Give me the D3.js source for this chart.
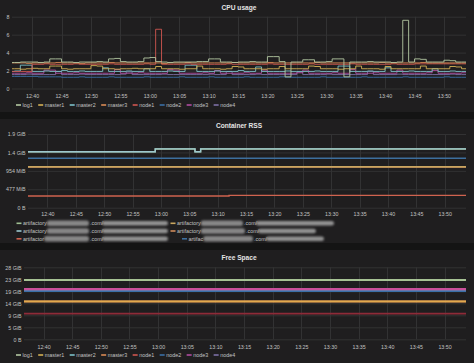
<!DOCTYPE html>
<html><head><meta charset="utf-8">
<script src="https://cdn.jsdelivr.net/npm/d3@7"></script>
<style>
html,body{margin:0;padding:0;background:#141414;}
svg{display:block;font-family:"Liberation Sans",Arial,sans-serif;}
</style></head><body><svg id="c" width="474" height="363"></svg>
<script>
// ---------------- DATA ----------------
const hostNames = ["log1","master1","master2","master3","node1","node2","node3","node4"];
const hostColors = ["#b4c8a2","#d4b055","#7cc0c8","#d98a55","#cf5650","#3a6fa6","#b04c9f","#7d70a6"];
const timeDomain = ["12:36:35","13:53:45"];
const timeTicks = ["12:40","12:45","12:50","12:55","13:00","13:05","13:10","13:15","13:20","13:25","13:30","13:35","13:40","13:45","13:50"];

// CPU usage, one sample per minute starting 12:36
const cpuStart = "12:36:00";
const cpuLog1 = [2.9,2.9,2.95,2.95,2.95,2.9,2.95,3.3,3.3,2.95, 2.95,2.9,2.95,2.95,2.95,3.0,2.95,3.3,3.35,3.0, 2.95,2.95,3.0,3.4,3.45,3.0,2.95,2.9,2.95,2.95, 2.95,2.95,3.0,3.0,3.3,3.3,2.95,2.95,2.9,2.95, 2.95,3.0,2.95,2.95,3.55,3.55,3.0,1.3,2.95,2.95, 3.2,3.2,2.95,2.95,3.0,3.3,3.3,1.3,2.95,2.95, 2.95,3.0,2.95,2.95,2.95,2.9,2.95,7.6,2.95,3.3, 3.25,2.95,2.95,2.95,3.15,3.1,2.95,2.95,2.95];
const cpuMaster1 = [2.2,2.2,2.15,2.2,2.25,2.2,2.2,2.5,2.5,2.2, 2.15,2.2,2.2,2.2,2.55,2.5,2.2,2.2,2.15,2.2, 2.2,2.25,2.2,2.2,2.2,2.45,2.2,2.2,2.2,2.15, 2.2,2.2,2.5,2.2,2.2,2.2,2.15,2.2,2.45,2.4, 2.2,2.2,2.2,2.15,2.2,2.2,2.45,2.2,2.2,2.2, 2.2,2.5,2.45,2.2,2.2,2.2,2.15,2.2,2.2,2.5, 2.2,2.2,2.2,2.15,2.45,2.2,2.2,2.2,2.2,2.2, 2.5,2.2,2.2,2.2,2.2,2.45,2.4,2.2,2.2];
const cpuMaster2 = [1.9,1.95,2.6,2.6,1.9,1.9,1.95,1.9,1.9,2.0, 1.9,1.9,1.95,1.9,1.9,1.9,2.3,1.9,1.9,1.9, 1.95,1.9,1.9,2.2,1.9,1.9,1.9,1.95,1.9,1.9, 2.6,2.6,1.9,1.9,1.9,1.95,1.9,1.9,1.9,2.0, 1.9,1.9,2.4,1.9,1.9,1.9,1.9,1.95,1.9,1.9, 1.9,1.9,1.95,1.9,1.9,1.9,2.5,2.5,1.9,1.9, 1.9,1.95,1.9,1.9,2.3,1.9,1.9,1.9,1.95,1.9, 1.9,1.9,2.2,1.9,1.9,1.95,1.9,1.9,1.9];
const cpuMaster3 = [2.85,2.85,2.85,2.8,2.85,2.85,2.85,2.85,2.9,2.85, 2.85,2.85,2.8,2.85,2.85,2.85,2.85,2.9,2.85,2.85, 2.85,2.85,2.85,2.85,2.85,2.85,2.8,2.85,2.85,2.85, 2.9,2.85,2.85,2.85,2.85,2.85,2.85,2.85,2.9,2.85, 2.85,2.85,2.85,2.85,2.9,2.85,2.85,2.85,2.85,2.85, 2.85,2.85,2.9,2.85,2.85,2.85,2.85,2.85,2.85,2.85, 2.85,2.85,2.85,2.9,2.85,2.85,2.85,2.85,2.85,2.85, 2.9,2.85,2.85,2.85,2.85,2.85,2.85,2.85,2.85];
const cpuNode1 = [1.9,1.9,1.9,1.9,2.7,2.7,2.75,2.7,2.7,2.7, 2.7,2.75,2.7,2.7,2.7,2.7,2.7,2.75,2.7,2.7, 2.7,2.7,2.7,2.75,2.7,6.6,2.7,2.7,2.7,2.7, 2.75,2.7,2.7,2.7,2.7,2.7,2.7,2.75,2.7,2.7, 2.7,2.7,2.7,2.7,2.75,2.7,2.7,2.7,2.7,2.7, 2.7,2.75,2.7,2.7,2.7,2.7,2.7,2.7,2.75,2.7, 2.7,2.7,2.7,2.7,2.7,2.75,2.7,2.7,2.7,2.75, 2.75,2.75,2.75,2.75,2.75,2.75,2.75,2.75,2.75];
const cpuNode2 = [1.35,1.35,1.35,1.35,1.35,1.3,1.3,1.3,1.3,1.25, 1.25,1.25,1.3,1.25,1.25,1.25,1.25,1.3,1.25,1.25, 1.25,1.25,1.25,1.3,1.25,1.25,1.25,1.25,1.25,1.3, 1.25,1.25,1.25,1.25,1.3,1.25,1.25,1.25,1.25,1.25, 1.3,1.25,1.25,1.25,1.25,1.25,1.3,1.25,1.25,1.25, 1.25,1.25,1.25,1.3,1.25,1.25,1.25,1.25,1.25,1.25, 1.3,1.25,1.25,1.25,1.25,1.25,1.25,1.3,1.25,1.25, 1.25,1.25,1.25,1.25,1.3,1.25,1.25,1.25,1.25];
const cpuNode3 = [1.7,1.7,1.7,1.75,1.7,1.7,2.05,2.05,1.7,1.7, 1.7,1.75,1.7,1.7,1.7,1.7,1.7,1.7,2.1,1.7, 1.7,1.7,1.75,1.7,1.7,1.7,1.7,2.1,2.05,1.7, 1.7,1.7,1.7,1.75,1.7,2.0,1.7,1.7,1.7,1.7, 1.75,1.7,1.7,2.05,1.7,1.7,1.7,1.7,1.7,1.75, 2.05,1.7,1.7,1.7,1.7,1.75,1.7,1.7,2.1,1.7, 1.7,1.7,1.75,1.7,1.7,1.7,2.05,1.7,1.7,1.7, 1.7,1.75,2.0,1.7,1.7,1.7,1.7,1.75,1.7];
const cpuNode4 = [1.55,1.55,1.55,1.6,1.55,1.55,1.55,1.55,1.9,1.55, 1.55,1.55,1.6,1.55,1.55,1.55,1.55,1.55,1.55,1.6, 1.85,1.55,1.55,1.55,1.55,1.55,1.6,1.55,1.55,1.55, 1.55,1.55,1.55,1.55,1.6,1.55,1.55,1.9,1.55,1.55, 1.55,1.55,1.6,1.55,1.55,1.55,1.55,1.55,1.55,1.85, 1.55,1.55,1.55,1.55,1.6,1.55,1.55,1.55,1.55,1.55, 1.55,1.9,1.55,1.55,1.55,1.55,1.6,1.55,1.55,1.55, 1.55,1.55,1.55,1.55,1.55,1.6,1.55,1.55,1.55];
const cpuTicks = [0,2,4,6,8];

// Container RSS (bytes), value changes at these times
const rssNames = ["artifactory","artifactory","artifactor","artifactory","artifactory","artifac"];
const rssColors = ["#9fbf92","#9cc8cf","#d0634f","#c9a760","#cf8a5a","#3d6f9e"];
const rssTimes = ["12:36:00","12:59:00","13:06:00","13:07:00","13:12:00","13:54:00"];
const rssGreen  = [1.52e9,1.593e9,1.52e9,1.593e9,1.593e9,1.593e9];
const rssCyan   = [1.52e9,1.595e9,1.52e9,1.595e9,1.595e9,1.595e9];
const rssRed    = [0.318e9,0.318e9,0.318e9,0.318e9,0.334e9,0.334e9];
const rssYellow = [1.113e9,1.113e9,1.113e9,1.113e9,1.113e9,1.113e9];
const rssOrange = [1.106e9,1.106e9,1.106e9,1.106e9,1.106e9,1.106e9];
const rssBlue   = [1.341e9,1.341e9,1.341e9,1.341e9,1.341e9,1.341e9];
const rssTicks = [0,5e8,1e9,1.5e9,2e9];
const rssTickLabels = ["0 B","477 MiB","954 MiB","1.4 GiB","1.9 GiB"];

// Free space (bytes), flat over the window
const freeTimes = ["12:36:00","13:54:00"];
const freeLog1 = [24.7e9,24.7e9];
const freeMaster1 = [15.8e9,15.8e9];
const freeMaster2 = [20.4e9,20.4e9];
const freeMaster3 = [15.75e9,15.75e9];
const freeNode1 = [10.7e9,10.7e9];
const freeNode2 = [20.05e9,20.05e9];
const freeNode3 = [20.95e9,20.95e9];
const freeNode4 = [20.6e9,20.6e9];
const freeTicks = [0,5e9,10e9,15e9,20e9,25e9,30e9];
const freeTickLabels = ["0 B","5 GiB","9 GiB","14 GiB","19 GiB","23 GiB","28 GiB"];

// ---------------- DRAW ----------------
const svg = d3.select("#c");
const pT = d3.timeParse("%H:%M:%S");
const pM = d3.timeParse("%H:%M");
const dom = timeDomain.map(pT);
const tickDates = timeTicks.map(pM);
const GRID = "#323233", PANEL = "#1f1e1f", TXT = "#c2c2c2";

const defs = svg.append("defs");
defs.append("filter").attr("id","smudge").attr("x","-20%").attr("y","-80%").attr("width","140%").attr("height","260%")
  .append("feGaussianBlur").attr("stdDeviation",1.3);

function panel(y0, y1){
  svg.append("rect").attr("x",0).attr("y",y0).attr("width",474).attr("height",y1-y0).attr("fill",PANEL);
}
panel(0,112); panel(119,243); panel(250,363);

function chart(cfg){
  const g = svg.append("g");
  const x = d3.scaleTime().domain(dom).range([cfg.left, 466]);
  const y = d3.scaleLinear().domain(cfg.yDomain).range([cfg.bottom, cfg.top]);
  const id = "clip"+cfg.key;
  defs.append("clipPath").attr("id",id).append("rect")
    .attr("x",cfg.left).attr("y",cfg.top-6).attr("width",466-cfg.left).attr("height",cfg.bottom-cfg.top+7);
  g.append("g").selectAll("line").data(cfg.yTicks).join("line")
    .attr("x1",cfg.left).attr("x2",466).attr("y1",d=>y(d)+0.5).attr("y2",d=>y(d)+0.5)
    .attr("stroke",GRID).attr("stroke-width",1);
  g.append("g").selectAll("line").data(tickDates).join("line")
    .attr("x1",d=>Math.round(x(d))+0.5).attr("x2",d=>Math.round(x(d))+0.5)
    .attr("y1",cfg.top).attr("y2",cfg.bottom).attr("stroke",GRID).attr("stroke-width",1);
  const ax = g.append("g").attr("transform",`translate(0,${cfg.bottom})`)
    .call(d3.axisBottom(x).tickValues(tickDates).tickFormat(d3.timeFormat("%H:%M")).tickSize(0).tickPadding(cfg.xPad));
  const ay = g.append("g").attr("transform",`translate(${cfg.left-2.5},0)`)
    .call(d3.axisLeft(y).tickValues(cfg.yTicks).tickFormat((d,i)=>cfg.yLabels[i]).tickSize(0).tickPadding(0));
  [ax,ay].forEach(a=>{a.select(".domain").remove(); a.selectAll("text").attr("fill",TXT).attr("font-size",5.3).attr("font-family","Liberation Sans, Arial, sans-serif");});
  svg.append("text").attr("x",239).attr("y",cfg.titleY).attr("text-anchor","middle")
    .attr("fill","#e4e4e4").attr("font-weight","bold").attr("font-size",6.6).text(cfg.title);
  const line = d3.line().curve(d3.curveStepAfter).x(d=>x(d.t)).y(d=>y(d.v));
  const lg = g.append("g").attr("clip-path",`url(#${id})`);
  cfg.series.forEach(s=>{
    lg.append("path").datum(s.data).attr("d",line).attr("fill","none")
      .attr("stroke",s.color).attr("stroke-width",cfg.lw).attr("stroke-opacity",cfg.op||1);
  });
  return {x,y};
}

// CPU
const cpu0 = pT(cpuStart);
const cpuArrays = [cpuLog1,cpuMaster1,cpuMaster2,cpuMaster3,cpuNode1,cpuNode2,cpuNode3,cpuNode4];
const cpuSeries = cpuArrays.map((arr,k)=>({color:hostColors[k], data:arr.map((v,i)=>({t:d3.timeMinute.offset(cpu0,i), v}))}));
const cpuOrder = [5,7,6,2,1,4,3,0].map(k=>cpuSeries[k]);
chart({key:"cpu", left:12, top:16.7, bottom:88.5, yDomain:[0,8], yTicks:cpuTicks, yLabels:cpuTicks.map(String),
  xPad:6, title:"CPU usage", titleY:10, series:cpuOrder, lw:1, op:0.9});

// RSS
const rssT = rssTimes.map(pT);
const rssArrays = [rssGreen,rssCyan,rssRed,rssYellow,rssOrange,rssBlue];
const rssSeries = rssArrays.map((arr,k)=>({color:rssColors[k], data:arr.map((v,i)=>({t:rssT[i], v}))}));
const rssOrder = [2,4,3,5,0,1].map(k=>rssSeries[k]);
chart({key:"rss", left:28, top:134, bottom:207.7, yDomain:[0,2e9], yTicks:rssTicks, yLabels:rssTickLabels,
  xPad:5, title:"Container RSS", titleY:127.5, series:rssOrder, lw:1.4});

// Free space
const freeT = freeTimes.map(pT);
const freeArrays = [freeLog1,freeMaster1,freeMaster2,freeMaster3,freeNode1,freeNode2,freeNode3,freeNode4];
const freeColors = hostColors.slice(); freeColors[4] = "#8e2b38"; freeColors[6] = "#c9509a"; freeColors[0] = "#a6c294"; freeColors[1] = "#e2aa4e";
const freeSeries = freeArrays.map((arr,k)=>({color:freeColors[k], data:arr.map((v,i)=>({t:freeT[i], v}))}));
const freeOrder = [2,5,7,6,3,1,4,0].map(k=>freeSeries[k]);
chart({key:"free", left:24, top:267.3, bottom:339.3, yDomain:[0,30e9], yTicks:freeTicks, yLabels:freeTickLabels,
  xPad:6, title:"Free Space", titleY:260, series:freeOrder, lw:1.8});

function hostLegend(yy){
  const lg = svg.append("g");
  let cx = 16;
  hostNames.forEach((n,k)=>{
    lg.append("line").attr("x1",cx).attr("x2",cx+5).attr("y1",yy).attr("y2",yy)
      .attr("stroke",hostColors[k]).attr("stroke-width",1.6);
    const t = lg.append("text").attr("x",cx+6.5).attr("y",yy+1.9).attr("fill",TXT).attr("font-size",5.4).text(n);
    cx = cx + 6.5 + t.node().getComputedTextLength() + 5.5;
  });
}
hostLegend(105);
hostLegend(355);

const rssLegendRows = [223.3,231,238.8];
const rssLegend = svg.append("g");
rssNames.forEach((n,k)=>{
  const col = k<3?0:1, row = k%3;
  const yy = rssLegendRows[row];
  const x0 = col===0 ? 16.5 : (row===2 ? 182 : 170.5);
  rssLegend.append("line").attr("x1",x0).attr("x2",x0+5).attr("y1",yy).attr("y2",yy)
    .attr("stroke",rssColors[k]).attr("stroke-width",1.6);
  const t = rssLegend.append("text").attr("x",x0+6.5).attr("y",yy+1.9).attr("fill",TXT).attr("font-size",5.4).text(n);
  const tEnd = x0+6.5+t.node().getComputedTextLength();
  const comX = col===0 ? 90 : [244,246,254][row];
  const endX = col===0 ? 168 : [334,316,324][row];
  rssLegend.append("rect").attr("x",tEnd).attr("y",yy-2.8).attr("width",comX-tEnd-1).attr("height",5.6).attr("rx",2.5)
    .attr("fill","#9a9a9a").attr("opacity",0.85).attr("filter","url(#smudge)");
  rssLegend.append("text").attr("x",comX).attr("y",yy+1.9).attr("fill",TXT).attr("font-size",5.4).text(".com/");
  rssLegend.append("rect").attr("x",comX+12).attr("y",yy-2.3).attr("width",endX-comX-12).attr("height",4.6).attr("rx",2.3)
    .attr("fill","#a8a8a8").attr("opacity",0.85).attr("filter","url(#smudge)");
});
</script></body></html>
